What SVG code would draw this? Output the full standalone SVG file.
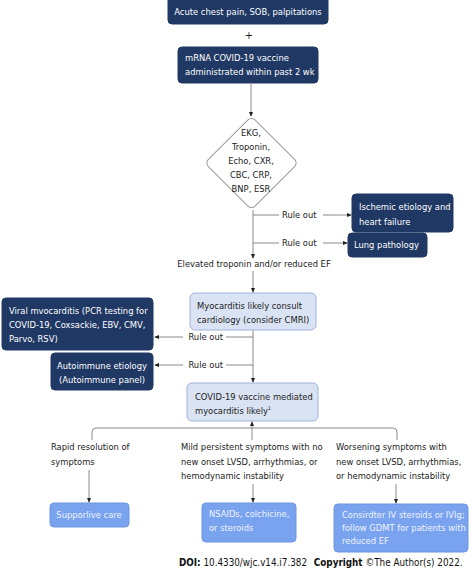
<svg xmlns="http://www.w3.org/2000/svg" width="474" height="571" viewBox="0 0 474 571">
<defs>
<marker id="ah" viewBox="0 0 6 6" refX="5" refY="3" markerWidth="5" markerHeight="5" orient="auto" markerUnits="userSpaceOnUse">
<path d="M0,0.5 L6,3 L0,5.5 Z" fill="#222"/>
</marker>
<style>
text{font-family:"DejaVu Sans Condensed","DejaVu Sans",sans-serif;font-size:9.3px;fill:#1a1a1a}
.dark rect{fill:#203864;stroke:#203864}
.dark text{fill:#ffffff}
.light rect{fill:#dae3f3;stroke:#9db3dc;stroke-width:1}
.mid rect{fill:#7aa3ef;stroke:#6c95e2;stroke-width:1}
.mid text{fill:#eef3ff}
.ln{stroke:#8a8a8a;stroke-width:1;fill:none}
.arr{marker-end:url(#ah)}
.ft{font-family:"DejaVu Sans Condensed","DejaVu Sans",sans-serif;font-size:9.8px;fill:#111}
</style>
</defs>

<g id="n-acute" class="dark">
<rect x="168" y="-5" width="160" height="29" rx="4"/>
<text x="248" y="15" text-anchor="middle">Acute chest pain, SOB, palpitations</text>
</g>
<g id="n-plus"><text x="249" y="39" text-anchor="middle" style="font-size:11px">+</text></g>
<g id="n-vaccine" class="dark">
<rect x="178" y="47" width="140" height="36" rx="4"/>
<text x="185" y="61">mRNA COVID-19 vaccine</text>
<text x="185" y="75">administrated within past 2 wk</text>
</g>
<g id="n-tests">
<rect x="218.5" y="130" width="66" height="66" rx="5" transform="rotate(45 251.5 163)" fill="#fff" stroke="#9a9a9a"/>
<text x="251" y="136" text-anchor="middle">EKG,</text>
<text x="251" y="150" text-anchor="middle">Troponin,</text>
<text x="251" y="164" text-anchor="middle">Echo, CXR,</text>
<text x="251" y="178" text-anchor="middle">CBC, CRP,</text>
<text x="251" y="192" text-anchor="middle">BNP, ESR</text>
</g>
<g id="n-ischemic" class="dark">
<rect x="352" y="194" width="101" height="38" rx="4"/>
<text x="359" y="210">Ischemic etiology and</text>
<text x="359" y="225">heart failure</text>
</g>
<g id="n-lung" class="dark">
<rect x="348" y="233" width="79" height="24" rx="4"/>
<text x="354" y="248">Lung pathology</text>
</g>
<g id="n-elevated"><text x="254" y="267" text-anchor="middle">Elevated troponin and/or reduced EF</text></g>
<g id="n-myo" class="light">
<rect x="190" y="293" width="126" height="37" rx="5"/>
<text x="197" y="309">Myocarditis likely consult</text>
<text x="197" y="323">cardiology (consider CMRI)</text>
</g>
<g id="n-viral" class="dark">
<rect x="2" y="298" width="151" height="52" rx="4"/>
<text x="9" y="314">Viral mvocarditis (PCR testing for</text>
<text x="9" y="328">COVID-19, Coxsackie, EBV, CMV,</text>
<text x="9" y="342">Parvo, RSV)</text>
</g>
<g id="n-auto" class="dark">
<rect x="51" y="353" width="102" height="37" rx="4"/>
<text x="102" y="369" text-anchor="middle">Autoimmune etiology</text>
<text x="102" y="383" text-anchor="middle">(Autoimmune panel)</text>
</g>
<g id="n-covid" class="light">
<rect x="187" y="383" width="131" height="38" rx="5"/>
<text x="195" y="400">COVID-19 vaccine mediated</text>
<text x="195" y="414">myocarditis likely<tspan dy="-4" style="font-size:5px">1</tspan></text>
</g>
<g id="n-rapid">
<text x="51" y="450">Rapid resolution of</text>
<text x="51" y="465">symptoms</text>
</g>
<g id="n-mild">
<text x="181" y="450">Mild persistent symptoms with no</text>
<text x="181" y="465">new onset LVSD, arrhythmias, or</text>
<text x="181" y="479">hemodynamic instability</text>
</g>
<g id="n-worse">
<text x="336" y="450">Worsening symptoms with</text>
<text x="336" y="465">new onset LVSD, arrhythmias,</text>
<text x="336" y="479">or hemodynamic instability</text>
</g>
<g id="n-supportive" class="mid">
<rect x="50" y="503" width="79" height="24" rx="4"/>
<text x="89" y="518" text-anchor="middle">Supporlive care</text>
</g>
<g id="n-nsaid" class="mid">
<rect x="202" y="503" width="94" height="39" rx="4"/>
<text x="209" y="517">NSAIDs, colchicine,</text>
<text x="209" y="531">or steroids</text>
</g>
<g id="n-steroids" class="mid">
<rect x="334" y="504" width="134" height="48" rx="4"/>
<text x="342" y="518">Consirdter IV steroids or IVIg;</text>
<text x="342" y="531">follow GDMT for patients with</text>
<text x="342" y="544">reduced EF</text>
</g>
<g id="n-footer">
<text class="ft" x="179" y="566"><tspan font-weight="bold">DOI:</tspan> 10.4330/wjc.v14.i7.382 <tspan dx="4" font-weight="bold">Copyright</tspan> ©The Author(s) 2022.</text>
</g>

<g id="connectors">
<line class="ln arr" x1="251" y1="83" x2="251" y2="116"/>
<line class="ln arr" x1="253" y1="210" x2="253" y2="258"/>
<line class="ln" x1="253" y1="215" x2="279" y2="215"/>
<text x="282" y="218">Rule out</text>
<line class="ln arr" x1="323" y1="215" x2="351" y2="215"/>
<line class="ln" x1="253" y1="243" x2="279" y2="243"/>
<text x="282" y="246">Rule out</text>
<line class="ln arr" x1="323" y1="243" x2="347" y2="243"/>
<line class="ln arr" x1="253" y1="271" x2="253" y2="292"/>
<line class="ln arr" x1="253" y1="330" x2="253" y2="382"/>
<line class="ln" x1="253" y1="337" x2="226" y2="337"/>
<text x="223" y="340" text-anchor="end">Rule out</text>
<line class="ln arr" x1="183" y1="337" x2="155" y2="337"/>
<line class="ln" x1="253" y1="365" x2="226" y2="365"/>
<text x="223" y="368" text-anchor="end">Rule out</text>
<line class="ln arr" x1="183" y1="365" x2="155" y2="365"/>
<path class="ln" d="M92,440 V432 Q92,428 96,428 H393 Q397,428 397,432 V440"/>
<line class="ln arr" x1="252" y1="440" x2="252" y2="422"/>
<line class="ln arr" x1="89" y1="470" x2="89" y2="502"/>
<line class="ln arr" x1="253" y1="484" x2="253" y2="502"/>
<line class="ln arr" x1="396" y1="484" x2="396" y2="503"/>
</g>
</svg>
